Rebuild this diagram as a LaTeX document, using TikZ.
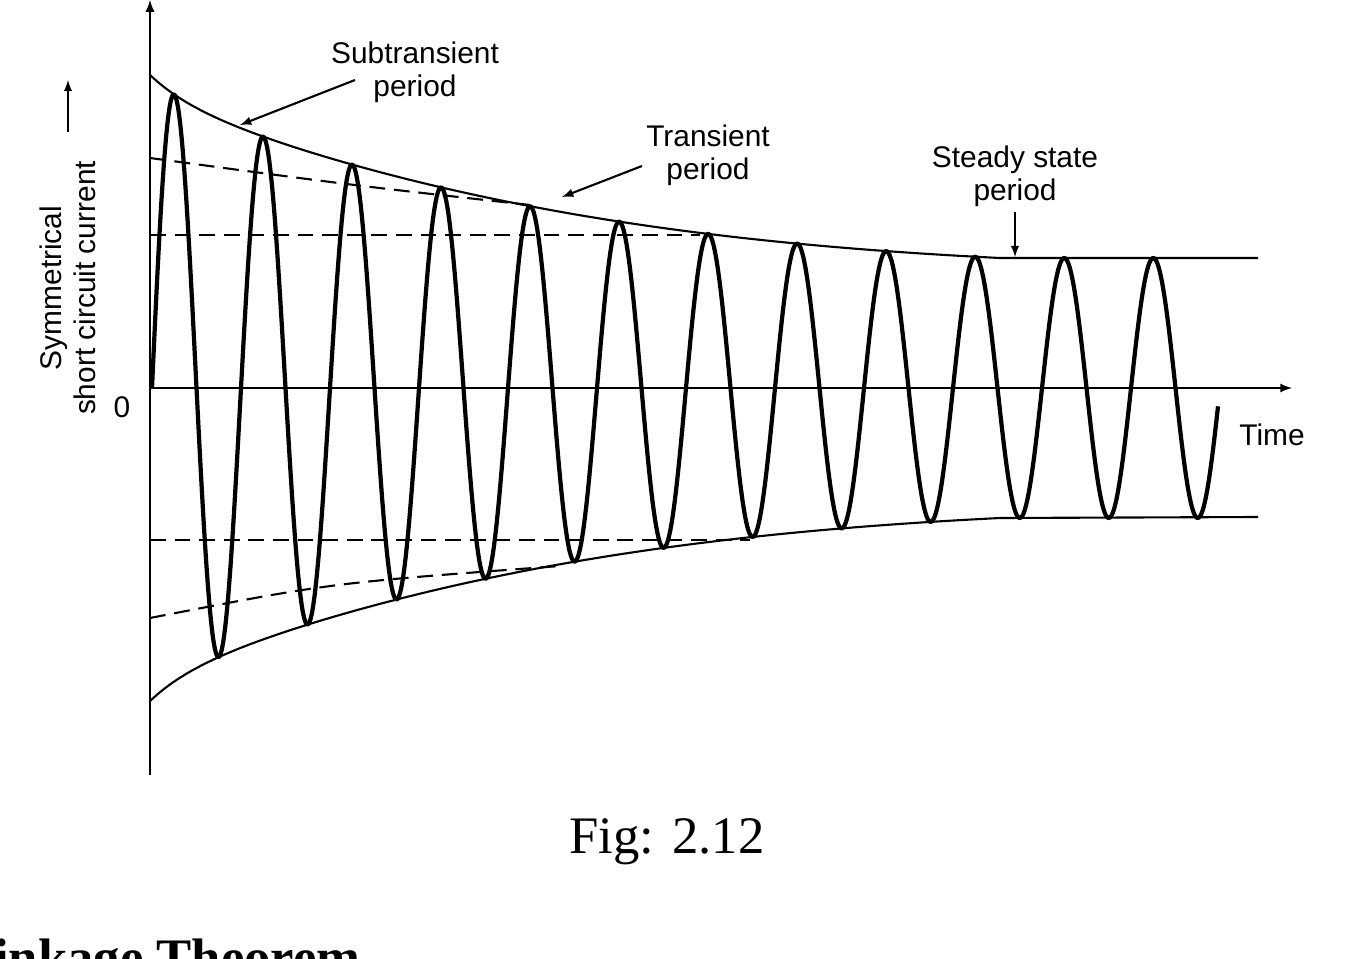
\documentclass[tikz,border=0pt]{standalone}
\usepackage{fontspec}
\setmainfont{Liberation Serif}
\newfontfamily\lab{Liberation Sans}
\begin{document}
\begin{tikzpicture}[x=0.02cm,y=-0.02cm,
  declare function={amp(\t)=130+160*exp(-(min(\t,1000)-150)/420)*(1-((min(\t,1000)-150)/850)^2)+23*exp(-(min(\t,1000)-150)/40);},
  env/.style={line width=1.2pt},
  dsh/.style={line width=1.2pt,dash pattern=on 9pt off 5pt},
  lbl/.style={font=\lab\fontsize{17}{19}\selectfont,align=center},
  arr/.style={line width=1.2pt,-latex}]
\useasboundingbox (0,0) rectangle (1371,959);
\begin{scope}
\clip (0,0) rectangle (1371,959);
% axes
\draw[line width=1.3pt,-latex] (150,775) -- (150,0);
\draw[line width=1.3pt,-latex] (150,388) -- (1292,388);
% envelopes
\draw[env] plot[domain=150:1000,samples=120] (\x,{388-amp(\x)}) -- (1258,258);
\draw[env] plot[domain=150:1000,samples=120] (\x,{388+amp(\x)}) -- (1258,517);
% dashed
\draw[dsh] (150,158) .. controls (350,185) .. (530,205);
\draw[dsh] (150,235) -- (700,235);
\draw[dsh] (150,618) .. controls (330,583) .. (560,566);
\draw[dsh] (150,540) -- (750,540);
% sine
\draw[line width=2.4pt,line join=round] plot[domain=152:1218,samples=900] (\x,{388-amp(\x)*sin(4.04494*(\x-152))});
% labels
\node[lbl] (sub) at (415,72) {Subtransient\\period};
\draw[arr] (355,80) -- (240,125);
\node[lbl] (tr) at (708,155) {Transient\\period};
\draw[arr] (642,166) -- (562,197);
\node[lbl] (ss) at (1015,176) {Steady state\\period};
\draw[arr] (1015,212) -- (1015,257);
\node[lbl,rotate=90] (yl) at (68,288) {Symmetrical\\short circuit current};
\draw[arr] (68,132) -- (68,80);
\node[lbl] (z) at (122,407) {0};
\node[lbl] (t) at (1272,435) {Time};
\node[font=\fontsize{30}{32}\selectfont] (fig) at (667,842) {Fig: 2.12};
\node[font=\bfseries\fontsize{30}{32}\selectfont,anchor=base west] (lk) at (-12,975) {inkage Theorem};
\end{scope}
\end{tikzpicture}
\end{document}
